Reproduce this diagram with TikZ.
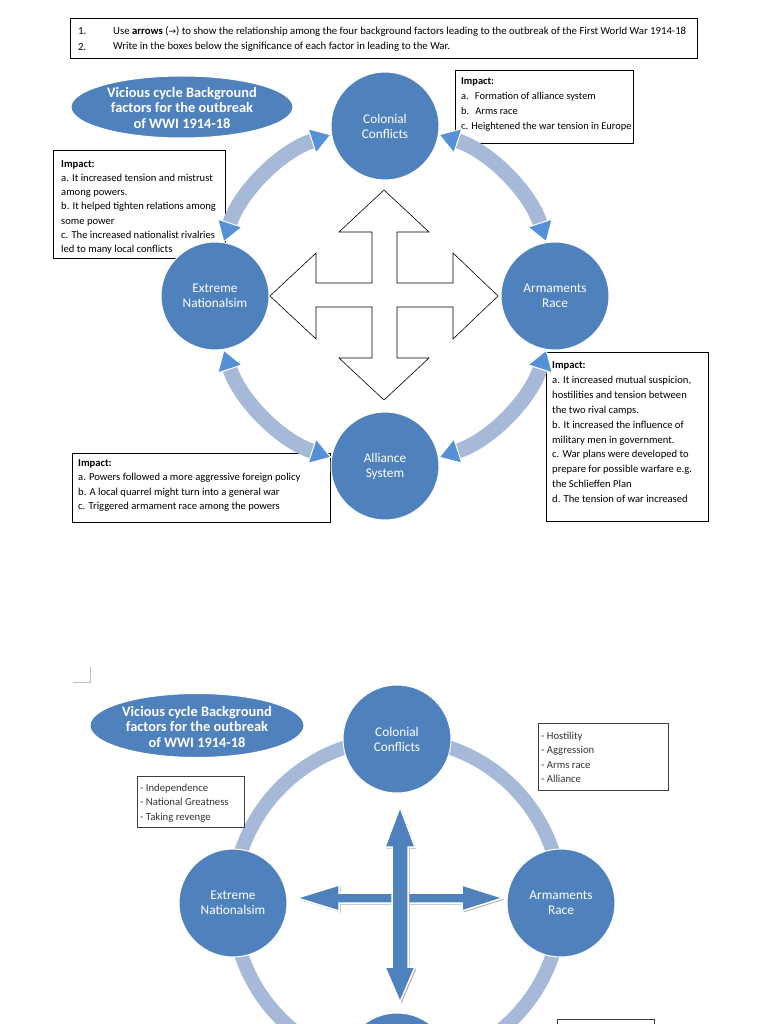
\documentclass[tikz,border=0pt]{standalone}
\usepackage{fontspec}
\setmainfont{Carlito}
\newfontfamily\dejavu{DejaVu Sans}
\usetikzlibrary{arrows.meta,shapes.geometric,shadows}
\definecolor{cblue}{RGB}{79,129,189}
\definecolor{ringblue}{RGB}{167,185,217}
\definecolor{tipblue}{RGB}{86,145,214}
\begin{document}
\begin{tikzpicture}[x=1pt,y=-1pt,
  instr/.style={anchor=west,inner sep=0pt,font=\fontsize{10.75}{13}\selectfont},
  framebox/.style={draw=black,line width=0.8pt,fill=white,rectangle,inner sep=0pt,anchor=north west},
  listbox/.style={draw=black!75,line width=0.6pt,fill=white,rectangle,inner sep=0pt,anchor=north west},
  boxtext/.style={anchor=north west,inner sep=0pt,align=left,font=\fontsize{10.6}{#1}\selectfont},
  boxtext/.default=14.5,
  listtext/.style={anchor=north west,inner sep=0pt,align=left,text=black!80,font=\fontsize{10.7}{14.5}\selectfont},
  factor/.style={circle,fill=cblue,draw=white,line width=1pt,minimum size=108pt,inner sep=0pt,outer sep=0pt,text=white,align=center,font=\fontsize{13.3}{15}\selectfont},
  titleshape/.style={ellipse,fill=cblue,draw=white,line width=1pt,inner sep=0pt},
  titletext/.style={text=white,align=center,inner sep=0pt,font=\bfseries\fontsize{14.4}{15.5}\selectfont},
  ringarc/.style={draw=ringblue,line width=15pt,line cap=butt,
    >={Triangle[length=21pt,width=27pt,line width=1pt,color=white,fill=tipblue]},<->},
  crossline/.style={draw=black,line width=0.6pt,fill=white,line join=miter},
  bluearrow/.style={fill=cblue,draw=white,line width=1.5pt,line join=miter,
    drop shadow={shadow xshift=1.5pt,shadow yshift=-1.5pt,fill=black!30,opacity=1}}
]
\fill[white] (0,0) rectangle (768,1024);
\useasboundingbox (0,0) rectangle (768,1024);

% instructions
\node[framebox,minimum width=627pt,minimum height=40pt] (ibox) at (70,18) {};
\node[instr] (n1) at (78,31) {1.};
\node[instr] (l1) at (113,31) {Use \textbf{arrows} ({\dejavu\fontsize{9}{9}\selectfont →}) to show the relationship among the four background factors leading to the outbreak of the First World War 1914-18};
\node[instr] (n2) at (78,47) {2.};
\node[instr] (l2) at (113,47) {Write in the boxes below the significance of each factor in leading to the War.};

% ---------- top diagram ----------
\node[titleshape,minimum width=222pt,minimum height=62pt] (t1) at (182,107) {};
\node[titletext] (t1txt) at ([yshift=-1pt]t1.center) {Vicious cycle Background\\factors for the outbreak\\of WWI 1914-18};

\node[framebox,minimum width=178pt,minimum height=73pt] (b1) at (455,70) {};
\node[boxtext=15,font=\fontsize{10.4}{15}\selectfont] (b1txt) at (461,78) {\textbf{Impact:}\\a.\hspace{3pt} Formation of alliance system\\b.\hspace{3pt} Arms race\\c. Heightened the war tension in Europe};

\node[framebox,minimum width=172pt,minimum height=108pt] (b2) at (53,150) {};
\node[boxtext=14.3] (b2txt) at (61,160) {\textbf{Impact:}\\a. It increased tension and mistrust\\among powers.\\b. It helped tighten relations among\\some power\\c. The increased nationalist rivalries\\led to many local conflicts};

\node[framebox,minimum width=162pt,minimum height=169pt] (b3) at (546,352) {};
\node[boxtext=14.9] (b3txt) at (552,361.5) {\textbf{Impact:}\\a. It increased mutual suspicion,\\hostilities and tension between\\the two rival camps.\\b. It increased the influence of\\military men in government.\\c. War plans were developed to\\prepare for possible warfare e.g.\\the Schlieffen Plan\\d. The tension of war increased};

\node[framebox,minimum width=258pt,minimum height=69pt] (b4) at (72,453) {};
\node[boxtext=14.3] (b4txt) at (78,459.5) {\textbf{Impact:}\\a. Powers followed a more aggressive foreign policy\\b. A local quarrel might turn into a general war\\c. Triggered armament race among the powers};

\node[factor] (col) at (385,126) {Colonial\\Conflicts};
\node[factor] (ext) at (215,296) {Extreme\\Nationalsim};
\node[factor] (arm) at (555,296) {Armaments\\Race};
\node[factor] (all) at (385,466) {Alliance\\System};

\draw[ringarc] (ext.81) arc[start angle=198.27,end angle=251.73,radius=170];
\draw[ringarc] (col.-9) arc[start angle=288.27,end angle=341.73,radius=170];
\draw[ringarc] (arm.-99) arc[start angle=18.27,end angle=71.73,radius=170];
\draw[ringarc] (all.171) arc[start angle=108.27,end angle=161.73,radius=170];

\draw[crossline] (384,190) -- (429,232) -- (397,232) -- (397,283) -- (453,283) -- (453,253) -- (498,296) -- (453,339) -- (453,307) -- (397,307) -- (397,358) -- (429,358) -- (384,400) -- (339,358) -- (372,358) -- (372,307) -- (316,307) -- (316,339) -- (270,296) -- (316,253) -- (316,283) -- (372,283) -- (372,232) -- (339,232) -- cycle;

% ---------- bottom diagram ----------
\draw[gray!50,line width=0.6pt] (73,682) -- (90,682) -- (90,667);
\node[titleshape,minimum width=214pt,minimum height=64pt] (t2) at (197,725.5) {};
\node[titletext] (t2txt) at ([yshift=-1pt]t2.center) {Vicious cycle Background\\factors for the outbreak\\of WWI 1914-18};

\coordinate (rc2) at (397,903);
\draw[draw=ringblue,line width=14pt] (rc2) circle[radius=164];

\node[factor] (col2) at (397,739) {Colonial\\Conflicts};
\node[factor] (ext2) at (233,903) {Extreme\\Nationalsim};
\node[factor] (arm2) at (561,903) {Armaments\\Race};
\node[factor] (all2) at (397,1067) {};

\node[listbox,minimum width=107pt,minimum height=51pt] (b5) at (137,776) {};
\node[listtext] (b5txt) at (140,783.5) {- Independence\\- National Greatness\\- Taking revenge};
\node[listbox,minimum width=130pt,minimum height=67pt] (b6) at (538,723) {};
\node[listtext] (b6txt) at (541,731.5) {- Hostility\\- Aggression\\- Arms race\\- Alliance};
\node[listbox,minimum width=97pt,minimum height=40pt] (b7) at (557,1019) {};

\draw[bluearrow] (297,898) -- (339,885) -- (339,893) -- (462,893) -- (462,885) -- (503,898) -- (462,911) -- (462,903) -- (339,903) -- (339,911) -- cycle;
\draw[bluearrow] (400,807) -- (415,847) -- (408,847) -- (408,967) -- (415,967) -- (400,1002) -- (385,967) -- (392,967) -- (392,847) -- (385,847) -- cycle;
\end{tikzpicture}
\end{document}
